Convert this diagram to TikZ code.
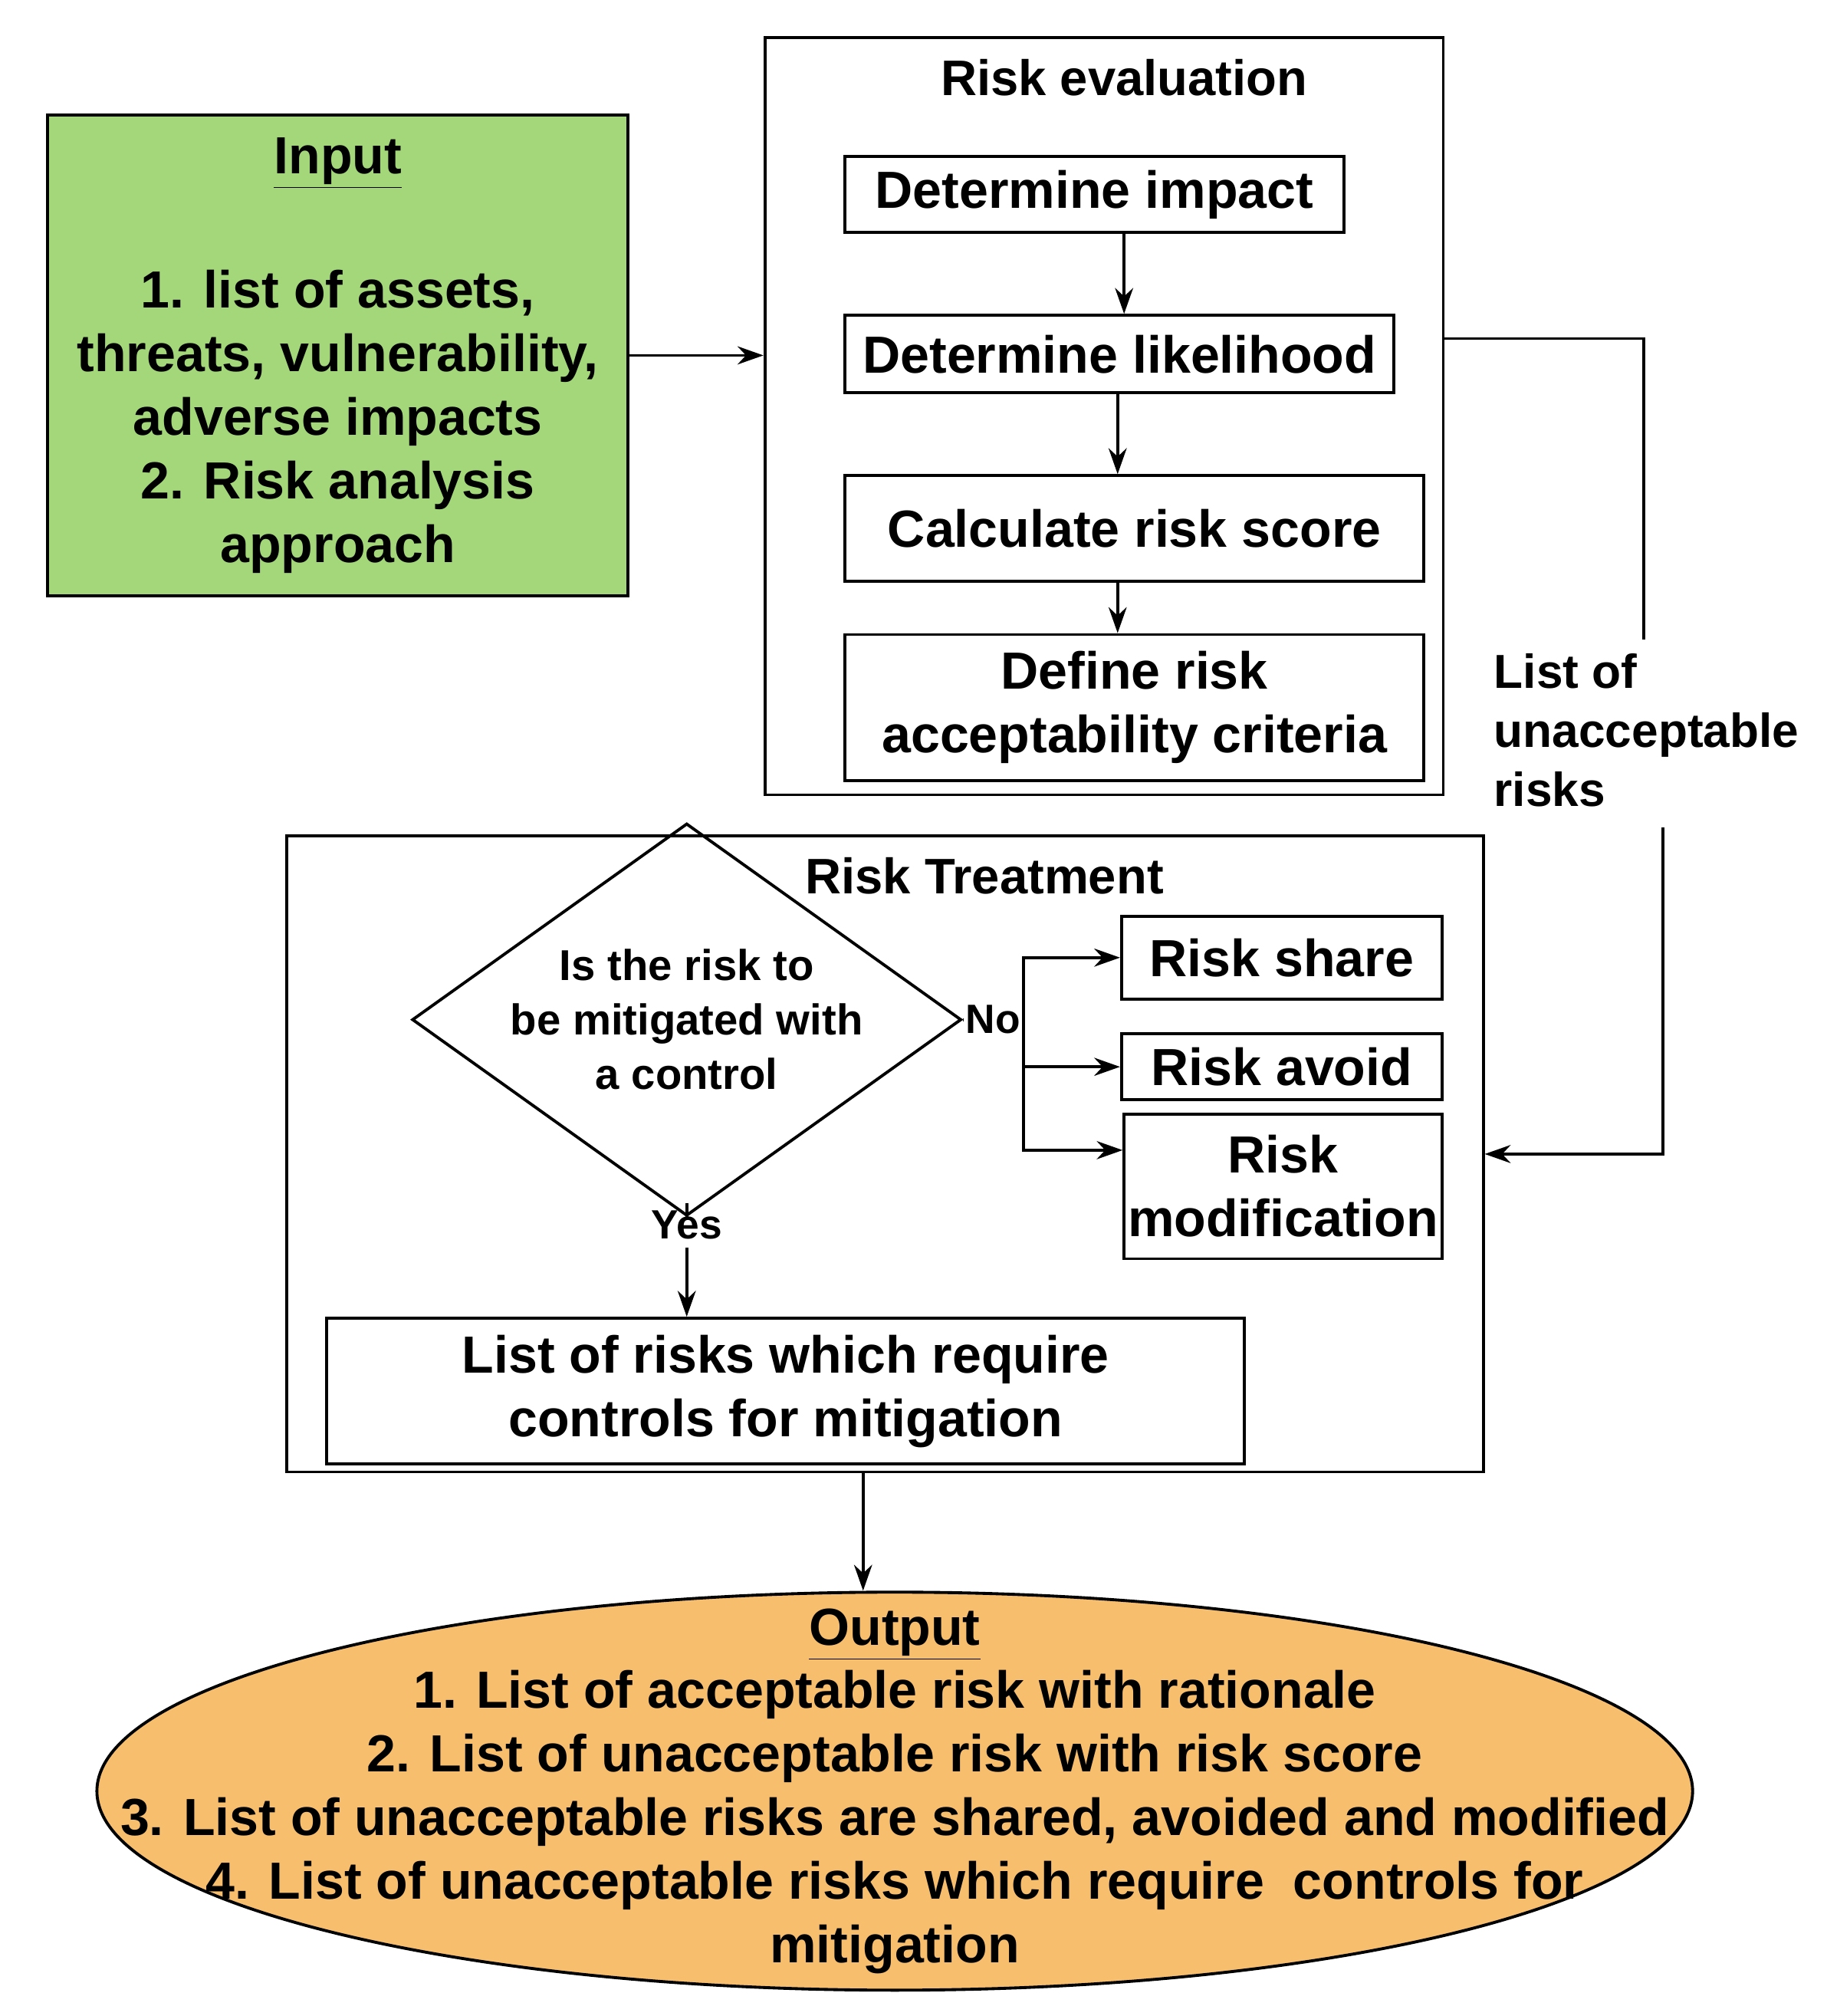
\documentclass[tikz,border=0pt]{standalone}
\usepackage{fontspec}
\setmainfont{Liberation Sans}
\usetikzlibrary{shapes.geometric, arrows.meta}
\definecolor{inputgreen}{HTML}{A3D77A}
\definecolor{outputorange}{HTML}{F7BE6E}
\tikzstyle{box} = [rectangle, draw=black, line width=1.3pt, inner sep=0pt, align=center, font=\fontsize{23}{28}\selectfont\bfseries]
\tikzstyle{frame} = [rectangle, draw=black, line width=1.3pt, inner sep=0pt]
\tikzstyle{title} = [font=\fontsize{22}{28}\selectfont\bfseries]
\tikzstyle{arrow} = [line width=1.3pt,-{Stealth[length=0.4cm,width=0.28cm]}]

\begin{document}
\begin{tikzpicture}
	\useasboundingbox (0,0) rectangle (28.28,-31.2);
	\node (input) [box, fill=inputgreen, minimum width=8.98cm, minimum height=7.44cm] at (5.23,-5.5) {\underline{Input}\\[1.1cm]1. list of assets,\\threats, vulnerability,\\adverse impacts\\2. Risk analysis\\approach};
	\node (eval) [frame, minimum width=10.5cm, minimum height=11.72cm] at (17.09,-6.44) {};
	\node (evaltitle) [title] at (17.4,-1.2) {Risk evaluation};
	\node (impact) [box, minimum width=7.72cm, minimum height=1.18cm] at (16.94,-3.01) {Determine impact};
	\node (likelihood) [box, minimum width=8.5cm, minimum height=1.2cm] at (17.33,-5.48) {Determine likelihood};
	\node (score) [box, minimum width=8.96cm, minimum height=1.64cm] at (17.56,-8.18) {Calculate risk score};
	\node (criteria) [box, minimum width=8.96cm, minimum height=2.26cm] at (17.56,-10.95) {Define risk\\acceptability criteria};
	\node (unacc) [anchor=west, align=left, inner sep=0pt, font=\fontsize{21}{26}\selectfont\bfseries] at (23.12,-11.3) {List of\\unacceptable\\risks};

	\node (treat) [frame, minimum width=18.52cm, minimum height=9.84cm] at (13.7,-17.86) {};
	\node (treattitle) [title] at (15.24,-13.56) {Risk Treatment};
	\node (decide) [diamond, draw=black, line width=1.3pt, inner sep=0pt, aspect=1.4, minimum width=7.42cm, minimum height=5.28cm, align=center, font=\fontsize{19}{24}\selectfont\bfseries] at (10.63,-15.78) {Is the risk to\\be mitigated with\\a control};
	\node (share) [box, minimum width=4.96cm, minimum height=1.28cm] at (19.84,-14.82) {Risk share};
	\node (avoid) [box, minimum width=4.96cm, minimum height=1.02cm] at (19.84,-16.51) {Risk avoid};
	\node (modify) [box, minimum width=4.92cm, minimum height=2.24cm] at (19.86,-18.36) {Risk\\modification};
	\node (yes) [font=\fontsize{18}{20}\selectfont\bfseries] at (10.63,-18.96) {Yes};
	\node (controls) [box, minimum width=14.2cm, minimum height=2.26cm] at (12.16,-21.53) {List of risks which require\\controls for mitigation};
	\coordinate (split) at (15.84,-15.78);

	\node (output) [ellipse, draw=black, line width=1.3pt, fill=outputorange, inner sep=0pt, minimum width=24.7cm, minimum height=6.16cm] at (13.85,-27.72) {};
	\node (outtext) [align=center, inner sep=0pt, font=\fontsize{23}{28}\selectfont\bfseries] at (output.center) {\underline{Output}\\1. List of acceptable risk with rationale\\2. List of unacceptable risk with risk score\\3. List of unacceptable risks are shared, avoided and modified\\4. List of unacceptable risks which require\ \ controls for\\mitigation};

	\draw [arrow] (input.east) -- (input.east -| eval.west);
	\draw [arrow] (impact.south -| 17.4,0) -- (17.4,0 |- likelihood.north);
	\draw [arrow] (likelihood.south -| 17.3,0) -- (17.3,0 |- score.north);
	\draw [arrow] (score.south -| 17.3,0) -- (17.3,0 |- criteria.north);
	\draw [line width=1.3pt] (eval.east |- 0,-5.24) -| (25.44,-9.9);
	\draw [arrow] (25.74,-12.8) |- (treat.east |- 0,-17.86);
	\draw [line width=1.3pt] (decide.east) -- node[fill=white, inner sep=1pt, font=\fontsize{18}{20}\selectfont\bfseries] {No} (split);
	\draw [arrow] (split) |- (share.west);
	\draw [arrow] (split) |- (avoid.west);
	\draw [arrow] (split) |- (modify.west |- 0,-17.8);
	\draw [line width=1.3pt] (decide.south) -- (yes.north);
	\draw [arrow] (yes.south) -- (controls.north -| decide.south);
	\draw [arrow] (treat.south -| 13.36,0) -- (output.north -| 13.36,0);
\end{tikzpicture}
\end{document}
